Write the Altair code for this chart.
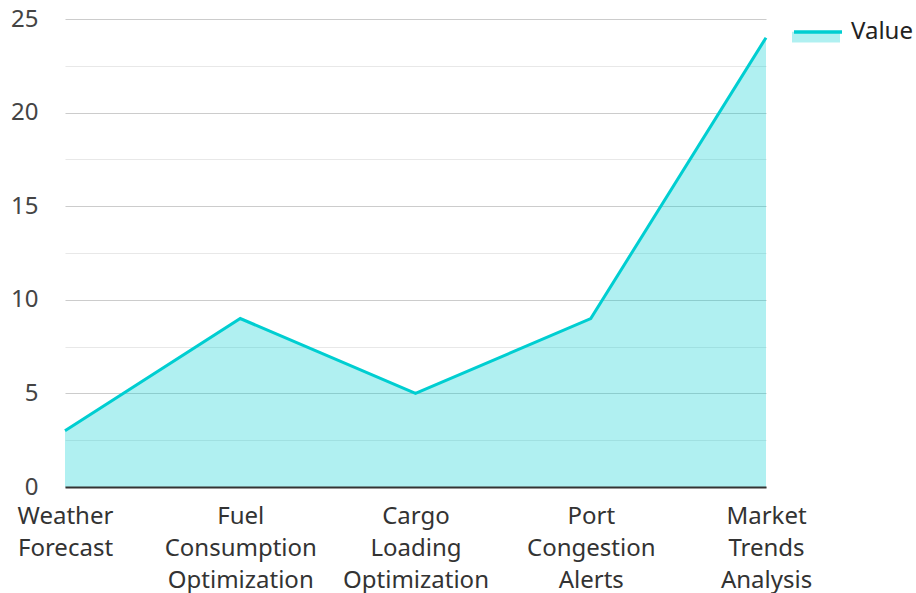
import altair as alt
import pandas as pd

categories = [
    "Weather Forecast",
    "Fuel Consumption Optimization",
    "Cargo Loading Optimization",
    "Port Congestion Alerts",
    "Market Trends Analysis",
]
values = [3, 9, 5, 9, 24]
series_name = "Value"
y_ticks = [0, 2.5, 5, 7.5, 10, 12.5, 15, 17.5, 20, 22.5, 25]

df = pd.DataFrame({
    "category": categories,
    "value": values,
    "series": [series_name] * len(categories),
    "series_fill": [series_name] * len(categories),
})

FONT = "Noto Sans"
TEAL = "#00CED1"

x = alt.X(
    "category:N",
    sort=categories,
    scale=alt.Scale(type="point", padding=0),
    axis=alt.Axis(
        title=None, labelAngle=0, labelAlign="center", labelBaseline="top",
        labelExpr="split(datum.label, ' ')", labelFontSize=24, labelLineHeight=32,
        labelPadding=17, ticks=False, domainColor="#333333", domainWidth=2,
        grid=False, labelColor="#333333", labelFont=FONT, zindex=1,
    ),
)
y = alt.Y(
    "value:Q",
    scale=alt.Scale(domain=[0, 25], nice=False),
    axis=alt.Axis(
        title=None, values=y_ticks,
        labelExpr="datum.value % 5 === 0 ? datum.label : ''",
        gridColor=alt.condition("datum.value % 5 === 0", alt.value("#cccccc"), alt.value("#e8e8e8")),
        gridWidth=1.2, domain=False, ticks=False, labelPadding=27, labelFontSize=24,
        labelColor="#444444", labelFont=FONT,
    ),
)

area = alt.Chart(df).mark_area(fillOpacity=0.31, interpolate="linear").encode(
    x=x, y=y,
    fill=alt.Fill(
        "series_fill:N", scale=alt.Scale(range=[TEAL]),
        legend=alt.Legend(
            orient="none", legendX=727, legendY=-13, title=None, padding=0,
            symbolType="M-1,0.07H1V0.52H-1Z", symbolSize=2304, symbolStrokeWidth=0,
            symbolOpacity=0.31, labelExpr="''", labelFontSize=24, labelOffset=7,
        ),
    ),
)
line = alt.Chart(df).mark_line(strokeWidth=3, interpolate="linear").encode(
    x=x, y=y,
    stroke=alt.Stroke(
        "series:N", scale=alt.Scale(range=[TEAL]),
        legend=alt.Legend(
            orient="none", legendX=727, legendY=-13, title=None, padding=0,
            symbolType="M-1,0H1", symbolSize=2304, symbolStrokeWidth=3.5,
            labelFontSize=24, labelFont=FONT, labelColor="#222222", labelOffset=7,
        ),
    ),
)

chart = alt.layer(area, line).properties(
    width=701, height=468,
    autosize=alt.AutoSizeParams(type="none"),
    padding={"left": 65, "top": 19, "right": 150, "bottom": 106},
    background="white",
).configure(font=FONT).configure_view(strokeWidth=0, stroke="transparent")

chart.save("out.html", embed_options={"renderer": "svg", "actions": False})
